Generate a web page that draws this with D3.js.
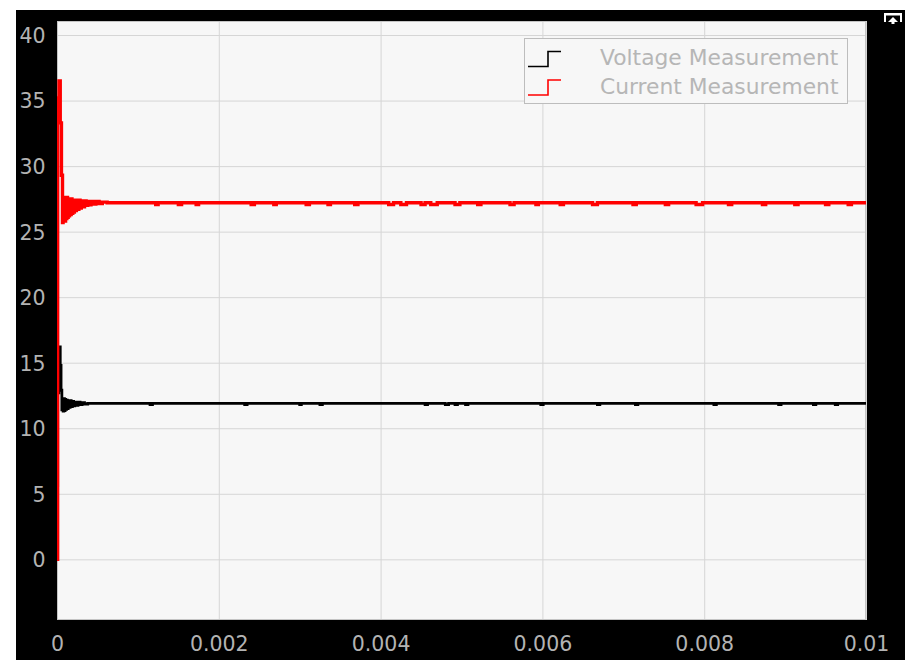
<!DOCTYPE html>
<html>
<head>
<meta charset="utf-8">
<script src="https://cdn.jsdelivr.net/npm/d3@7"></script>
<style>
  html, body { margin: 0; padding: 0; background: #ffffff; }
  svg { display: block; font-family: "DejaVu Sans", sans-serif; }
</style>
</head>
<body>
<svg id="chart" width="923" height="666"></svg>
<script>
// ---------------- DATA ----------------
const seriesNames = ["Voltage Measurement", "Current Measurement"];
const xTickValues = [0, 0.002, 0.004, 0.006, 0.008, 0.01];
const xTickLabels = ["0", "0.002", "0.004", "0.006", "0.008", "0.01"];
const yTickValues = [0, 5, 10, 15, 20, 25, 30, 35, 40];
const yTickLabels = ["0", "5", "10", "15", "20", "25", "30", "35", "40"];

// Voltage Measurement (time s, value)
const voltageTime = [
  0, 0.000008, 0.000022, 0.000040, 0.000050, 0.000060,
  0.000068, 0.000076, 0.000084, 0.000092, 0.000100, 0.000108, 0.000118, 0.000128,
  0.000138, 0.000150, 0.000162, 0.000175, 0.000190, 0.000205, 0.000220, 0.000240,
  0.000260, 0.000285, 0.000310, 0.000340, 0.000380,
  0.00115, 0.00118, 0.00232, 0.00235, 0.00300, 0.00302, 0.00325, 0.00328,
  0.00455, 0.00458, 0.00480, 0.00484, 0.00492, 0.00495, 0.00505, 0.00508,
  0.00598, 0.00601, 0.00668, 0.00671, 0.00715, 0.00718, 0.00812, 0.00815,
  0.00892, 0.00895, 0.00935, 0.00938, 0.00962, 0.00965, 0.01
];
const voltageValue = [
  5.6, 12.7, 16.2, 14.8, 12.9, 11.4,
  12.2, 11.3, 12.25, 11.35, 12.2, 11.45, 12.15, 11.5,
  12.1, 11.6, 12.1, 11.65, 12.05, 11.7, 12.0, 11.75,
  12.0, 11.8, 11.95, 11.85, 11.9,
  11.8, 11.9, 11.8, 11.9, 11.8, 11.9, 11.8, 11.9,
  11.8, 11.9, 11.8, 11.9, 11.8, 11.9, 11.8, 11.9,
  11.8, 11.9, 11.8, 11.9, 11.8, 11.9, 11.8, 11.9,
  11.8, 11.9, 11.8, 11.9, 11.8, 11.9, 11.9
];

// Current Measurement (time s, value)
const currentTime = [
  0, 0.000008, 0.000025, 0.000040, 0.000055, 0.000068,
  0.000075, 0.000082, 0.000090, 0.000098, 0.000106, 0.000114, 0.000122, 0.000130,
  0.000138, 0.000146, 0.000155, 0.000165, 0.000175, 0.000185, 0.000195, 0.000205,
  0.000215, 0.000225, 0.000240, 0.000255, 0.000270, 0.000285, 0.000300, 0.000320,
  0.000340, 0.000360, 0.000380, 0.000400, 0.000420, 0.000450, 0.000480, 0.000520,
  0.000560, 0.000620,
  0.00122, 0.00125, 0.00150, 0.00154, 0.00172, 0.00175, 0.00240, 0.00244,
  0.00268, 0.00271, 0.00308, 0.00312, 0.00335, 0.00338, 0.00368, 0.00372,
  0.00410, 0.00416, 0.00425, 0.00432, 0.00450, 0.00455, 0.00462, 0.00470,
  0.00492, 0.00498, 0.00520, 0.00524, 0.00560, 0.00565, 0.00592, 0.00595,
  0.00622, 0.00626, 0.00662, 0.00668, 0.00712, 0.00716, 0.00752, 0.00756,
  0.00790, 0.00798, 0.00830, 0.00834, 0.00872, 0.00876, 0.00912, 0.00916,
  0.00950, 0.00954, 0.00978, 0.00982, 0.01
];
const currentValue = [
  0, 35.2, 36.5, 33.3, 29.3, 25.7,
  27.4, 25.9, 27.6, 25.8, 27.5, 26.0, 27.6, 26.1,
  27.5, 26.2, 27.5, 26.3, 27.5, 26.4, 27.4, 26.5,
  27.4, 26.6, 27.4, 26.7, 27.4, 26.8, 27.35, 26.9,
  27.35, 27.0, 27.3, 27.05, 27.3, 27.1, 27.3, 27.15,
  27.25, 27.2,
  27.07, 27.2, 27.07, 27.2, 27.07, 27.2, 27.07, 27.2,
  27.07, 27.2, 27.07, 27.2, 27.07, 27.2, 27.07, 27.2,
  27.07, 27.2, 27.07, 27.2, 27.07, 27.2, 27.07, 27.2,
  27.07, 27.2, 27.07, 27.2, 27.07, 27.2, 27.07, 27.2,
  27.07, 27.2, 27.07, 27.2, 27.07, 27.2, 27.07, 27.2,
  27.07, 27.2, 27.07, 27.2, 27.07, 27.2, 27.07, 27.2,
  27.07, 27.2, 27.07, 27.2, 27.2
];

const seriesColors = ["#000000", "#ff0000"];

// ---------------- LAYOUT ----------------
const svg = d3.select("#chart");
const plot = { left: 57, top: 21, right: 866, bottom: 620 };
const pw = plot.right - plot.left, ph = plot.bottom - plot.top;

const x = d3.scaleLinear().domain([0, 0.01]).range([plot.left, plot.right]);
const y = d3.scaleLinear().domain([-4.63, 41.07]).range([plot.bottom, plot.top]);

// Dark scope background
svg.append("rect").attr("x", 16).attr("y", 10).attr("width", 889).attr("height", 650).attr("fill", "#000");

// plot area
svg.append("rect").attr("x", plot.left).attr("y", plot.top).attr("width", pw).attr("height", ph)
  .attr("fill", "#f7f7f7");

// gridlines + tick labels
const gx = svg.append("g").attr("transform", `translate(0,${plot.bottom})`)
  .call(d3.axisBottom(x).tickValues(xTickValues).tickSize(-ph).tickFormat((d, i) => xTickLabels[i]).tickPadding(0));
gx.select(".domain").remove();
gx.selectAll("line").attr("stroke", "#d6d6d6").attr("stroke-width", 1);
gx.selectAll("text").attr("y", 31).attr("dy", 0).attr("fill", "#b3b3b3")
  .attr("font-size", 20.5).attr("font-family", "DejaVu Sans");

const gy = svg.append("g").attr("transform", `translate(${plot.left},0)`)
  .call(d3.axisLeft(y).tickValues(yTickValues).tickSize(-pw).tickFormat((d, i) => yTickLabels[i]).tickPadding(11.5));
gy.select(".domain").remove();
gy.selectAll("line").attr("stroke", "#d6d6d6").attr("stroke-width", 1);
gy.selectAll("text").attr("dy", "0.36em").attr("fill", "#b3b3b3")
  .attr("font-size", 20.5).attr("font-family", "DejaVu Sans");

// frame
svg.append("rect").attr("x", plot.left + 0.5).attr("y", plot.top + 0.5).attr("width", pw - 1).attr("height", ph - 1)
  .attr("fill", "none").attr("stroke", "#c4c4c4").attr("stroke-width", 1);

// clip
svg.append("clipPath").attr("id", "clip").append("rect")
  .attr("x", plot.left).attr("y", plot.top).attr("width", pw).attr("height", ph);

const line = d3.line().x(d => x(d[0])).y(d => y(d[1])).curve(d3.curveStepAfter);
const voltageData = voltageTime.map((t, i) => [t, voltageValue[i]]);
const currentData = currentTime.map((t, i) => [t, currentValue[i]]);

const traces = svg.append("g").attr("clip-path", "url(#clip)");
traces.append("path").datum(voltageData).attr("d", line)
  .attr("fill", "none").attr("stroke", seriesColors[0]).attr("stroke-width", 2.8);
traces.append("path").datum(currentData).attr("d", line)
  .attr("fill", "none").attr("stroke", seriesColors[1]).attr("stroke-width", 3.4);

// legend
const lg = svg.append("g");
lg.append("rect").attr("x", 524.5).attr("y", 38.5).attr("width", 323).attr("height", 65)
  .attr("fill", "#f7f7f7").attr("stroke", "#bdbdbd").attr("stroke-width", 1);
const legendRows = [66.5, 95];
seriesNames.forEach((name, i) => {
  const by = legendRows[i];
  lg.append("path")
    .attr("d", `M528,${by} H548 V${by - 15} H561`)
    .attr("fill", "none").attr("stroke", seriesColors[i]).attr("stroke-width", 1.6);
  lg.append("text").attr("x", 600).attr("y", by - 1.5).text(name)
    .attr("fill", "#b6b6b6").attr("font-size", 21.8).attr("font-family", "DejaVu Sans");
});

// undock icon (top-right)
const ic = svg.append("g").attr("fill", "#ffffff");
ic.append("rect").attr("x", 884).attr("y", 13).attr("width", 18).attr("height", 2.5);
ic.append("rect").attr("x", 884).attr("y", 13).attr("width", 2).attr("height", 9);
ic.append("rect").attr("x", 900).attr("y", 13).attr("width", 2).attr("height", 9);
ic.append("path").attr("d", "M893,17 L898,22 L888,22 Z");
ic.append("rect").attr("x", 891.5).attr("y", 21).attr("width", 3).attr("height", 3);
</script>
</body>
</html>
